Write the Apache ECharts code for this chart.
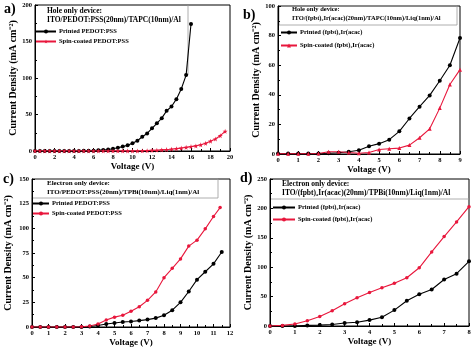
<!DOCTYPE html>
<html><head><meta charset="utf-8">
<script src="https://cdn.jsdelivr.net/npm/echarts@6/dist/echarts.min.js"></script>
<style>html,body{margin:0;padding:0;background:#fff}#c{width:474px;height:349px}</style>
</head><body><div id="c"></div>
<script>
// ---- Panel a: Hole only device, PEDOT:PSS
const voltA_printed = [0,0.5,1,1.5,2,2.5,3,3.5,4,4.5,5,5.5,6,6.5,7,7.5,8,8.5,9,9.5,10,10.5,11,11.5,12,12.5,13,13.5,14,14.5,15,15.5,16];
const curA_printed  = [0,0,0,0,0,0,0,0,0,0.1,0.2,0.3,0.5,1,1.5,2,3,4.5,6,8,10.5,14,19.5,24,31,38,45,55,61,71,85,104,174];
const voltA_spin = [0,0.5,1,1.5,2,2.5,3,3.5,4,4.5,5,5.5,6,6.5,7,7.5,8,8.5,9,9.5,10,10.5,11,11.5,12,12.5,13,13.5,14,14.5,15,15.5,16,16.5,17,17.5,18,18.5,19,19.5];
const curA_spin  = [0.1,0.1,0.1,0.1,0.1,0.1,0.1,0.1,0.1,0.1,0.1,0.1,0.1,0.1,0.1,0.1,0.1,0.1,0.1,0.1,0.1,0.1,0.3,0.5,0.8,1,1.5,2,2.5,3.2,4,5,6,7,8.5,10.5,13.5,16.5,21,27];
// ---- Panel b: Hole only device, (fpbt)2Ir(acac)
const voltB = [0,0.5,1,1.5,2,2.5,3,3.5,4,4.5,5,5.5,6,6.5,7,7.5,8,8.5,9];
const curB_printed = [0.3,0.3,0.3,0.3,0.3,0.5,0.8,1.5,2.5,5.2,7,9.7,15.3,24,32,39.6,49.5,60,78.4];
const curB_spin    = [0.2,0.2,0.2,0.2,0.3,1.5,1.5,1,0.5,1,3,3.5,4,6,11,17,31,47,57];
// ---- Panel c: Electron only device, PEDOT:PSS
const voltC_printed = [0,0.5,1,1.5,2,2.5,3,3.5,4,4.5,5,5.5,6,6.5,7,7.5,8,8.5,9,9.5,10,10.5,11,11.5];
const curC_printed  = [0,0,0,0,0,0,0,0.5,1.5,3,4,5,5.5,6.5,7.5,9,12,17,25,36,48,56,64,76];
const voltC_spin = [0,0.5,1,1.5,2,2.5,3,3.5,4,4.5,5,5.5,6,6.5,7,7.5,8,8.5,9,9.5,10,10.5,11,11.4];
const curC_spin  = [0,0,0,0,0,0,0.3,1,3,7,10,12,16,20.5,27,35.5,50,59.5,69,82,88,99.5,112,121];
// ---- Panel d: Electron only device, (fpbt)2Ir(acac)
const voltD = [0,0.5,1,1.5,2,2.5,3,3.5,4,4.5,5,5.5,6,6.5,7,7.5,8];
const curD_printed = [0,0,0,1,1.5,2.5,5,6.5,10,15,27,43,54,62,79,89,110];
const curD_spin    = [0,1,3.5,9,16,26,38,48,57,65,72.5,82,99,126,152,177,203];

const namesA = ['Printed PEDOT:PSS', 'Spin-coated PEDOT:PSS'];
const namesB = ['Printed (fpbt)\u2082Ir(acac)', 'Spin-coated (fpbt)\u2082Ir(acac)'];
const namesC = ['Printed PEDOT:PSS#c', 'Spin-coated PEDOT:PSS#c'];
const namesD = ['Printed (fpbt)\u2082Ir(acac)#d', 'Spin-coated (fpbt)\u2082Ir(acac)#d'];

const xTicksA = [0,20,2], xTicksB = [0,9,1], xTicksC = [0,12,1], xTicksD = [0,8,1];
const yTicksA = [0,200,50], yTicksB = [0,100,20], yTicksC = [0,150,25], yTicksD = [0,250,50];

const FONT = "'Liberation Serif','Times New Roman',serif";
const BLACK = '#000000', RED = '#e8173c';
const STAR = 'path://M50,0 L61,35 L98,35 L68,57 L79,91 L50,70 L21,91 L32,57 L2,35 L39,35 Z';

const zip = (xs, ys) => xs.map((x, i) => [x, ys[i]]);

const grids = [
  {left: 35, top: 5, width: 195, height: 146},
  {left: 278, top: 6, width: 182, height: 148},
  {left: 32, top: 179, width: 198, height: 148},
  {left: 270, top: 179, width: 199, height: 147}
];
const yGaps = [15, 11, 19, 13];
const xGaps = [10, 9, 10, 9];

function xAxis(i, t) {
  return {
    gridIndex: i, type: 'value', min: t[0], max: t[1], interval: t[2],
    name: 'Voltage (V)', nameLocation: 'middle', nameGap: xGaps[i],
    nameTextStyle: {fontFamily: FONT, fontWeight: 'bold', fontSize: 9, color: '#000'},
    axisLine: {show: true, onZero: false, lineStyle: {color: '#000', width: 1}},
    axisTick: {show: true, inside: true, length: 3, lineStyle: {color: '#000'}},
    minorTick: {show: true, splitNumber: 2, length: 2, lineStyle: {color: '#000'}},
    axisLabel: {fontFamily: FONT, fontWeight: 'bold', fontSize: 6.5, color: '#000', margin: 3},
    splitLine: {show: false}
  };
}
function yAxis(i, t) {
  return {
    gridIndex: i, type: 'value', min: t[0], max: t[1], interval: t[2],
    name: 'Current Density (mA cm\u207B\u00B2)', nameLocation: 'middle', nameGap: yGaps[i],
    nameTextStyle: {fontFamily: FONT, fontWeight: 'bold', fontSize: 10, color: '#000'},
    axisLine: {show: true, onZero: false, lineStyle: {color: '#000', width: 1}},
    axisTick: {show: true, inside: true, length: 3, lineStyle: {color: '#000'}},
    minorTick: {show: true, splitNumber: 2, length: 2, lineStyle: {color: '#000'}},
    axisLabel: {fontFamily: FONT, fontWeight: 'bold', fontSize: 6.5, color: '#000', margin: 3},
    splitLine: {show: false}
  };
}
function line(i, name, xs, ys, color, symbol, size) {
  return {
    type: 'line', name: name, xAxisIndex: i, yAxisIndex: i, data: zip(xs, ys),
    symbol: symbol, symbolSize: size, showSymbol: true,
    lineStyle: {color: color, width: 1.1}, itemStyle: {color: color},
    emphasis: {disabled: true}, animation: false
  };
}
function legend(names, left, top, itemWidth, gap, fs) {
  return {
    data: names, orient: 'vertical', left: left, top: top, padding: 0,
    itemWidth: itemWidth, itemHeight: 5, itemGap: gap, selectedMode: false,
    formatter: n => n.replace(/#.$/, ''),
    textStyle: {fontFamily: FONT, fontWeight: 'bold', fontSize: fs, color: '#000', padding: [0,0,0,-2]}
  };
}
function txt(x, y, s, fs, extra) {
  return Object.assign({type: 'text', left: x, top: y, silent: true,
    style: {text: s, fontFamily: FONT, fontWeight: 'bold', fontSize: fs, fill: '#000'}}, extra || {});
}

const option = {
  backgroundColor: '#fff',
  animation: false,
  grid: grids.map(g => Object.assign({show: true, borderColor: '#000', borderWidth: 1, backgroundColor: 'transparent'}, g)),
  xAxis: [xAxis(0, xTicksA), xAxis(1, xTicksB), xAxis(2, xTicksC), xAxis(3, xTicksD)],
  yAxis: [yAxis(0, yTicksA), yAxis(1, yTicksB), yAxis(2, yTicksC), yAxis(3, yTicksD)],
  legend: [
    legend(namesA, 35, 28, 20, 3, 6.5),
    legend(namesB, 280, 29, 16, 6, 6.5),
    legend(namesC, 32, 200, 16, 3, 6.5),
    legend(namesD, 272, 204, 22, 5, 6.5)
  ],
  series: [
    line(0, namesA[0], voltA_printed, curA_printed, BLACK, 'circle', 4),
    line(0, namesA[1], voltA_spin, curA_spin, RED, STAR, 5),
    line(1, namesB[0], voltB, curB_printed, BLACK, 'circle', 4),
    line(1, namesB[1], voltB, curB_spin, RED, 'triangle', 4),
    line(2, namesC[0], voltC_printed, curC_printed, BLACK, 'circle', 4),
    line(2, namesC[1], voltC_spin, curC_spin, RED, 'circle', 3.5),
    line(3, namesD[0], voltD, curD_printed, BLACK, 'circle', 4),
    line(3, namesD[1], voltD, curD_spin, RED, 'circle', 3.5)
  ],
  graphic: [
    txt(4, 2, 'a)', 14),
    txt(243, 8, 'b)', 14),
    txt(3, 172, 'c)', 14),
    txt(240, 171, 'd)', 14),
    // panel a annotation
    {type: 'line', silent: true, shape: {x1: 188, y1: 5, x2: 188, y2: 75}, style: {stroke: '#9a9a9a', lineWidth: 0.8}},
    txt(47, 7, 'Hole only device:', 7.5),
    txt(47, 16, 'ITO/PEDOT:PSS(20nm)/TAPC(10nm)/Al', 7.5),
    // panel b annotation
    {type: 'rect', silent: true, shape: {x: 279, y: 6, width: 178, height: 19}, style: {fill: 'none', stroke: '#9a9a9a', lineWidth: 0.8}},
    txt(292, 6, 'Hole only device:', 6.5),
    txt(292, 15, 'ITO/(fpbt)\u2082Ir(acac)(20nm)/TAPC(10nm)/Liq(1nm)/Al', 6.5),
    // panel c annotation
    {type: 'rect', silent: true, shape: {x: 32, y: 179, width: 186, height: 19}, style: {fill: 'none', stroke: '#9a9a9a', lineWidth: 0.8}},
    txt(47, 180, 'Electron only device:', 7),
    txt(47, 189, 'ITO/PEDOT:PSS(20nm)/TPBi(10nm)/Liq(1nm)/Al', 7),
    // panel d annotation
    {type: 'line', silent: true, shape: {x1: 270, y1: 199, x2: 469, y2: 199}, style: {stroke: '#9a9a9a', lineWidth: 0.8}},
    txt(282, 180, 'Electron only device:', 7.5),
    txt(282, 189, 'ITO/(fpbt)\u2082Ir(acac)(20nm)/TPBi(10nm)/Liq(1nm)/Al', 7.5)
  ]
};
const chart = echarts.init(document.getElementById('c'), null, {renderer: 'canvas'});
chart.setOption(option);
</script></body></html>
